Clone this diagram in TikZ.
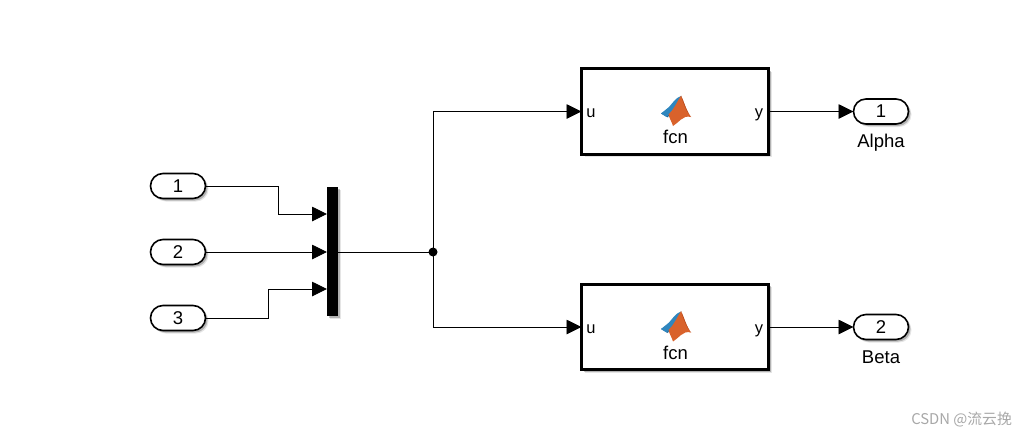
\documentclass[tikz,border=0pt]{standalone}
\usepackage{fontspec}
\usetikzlibrary{arrows.meta,shadows}
\setmainfont{Liberation Sans}
\newfontfamily\cjkwm{Noto Sans CJK SC}
\definecolor{logoblue}{HTML}{2F86BE}
\definecolor{logodark}{HTML}{1B5C8C}
\definecolor{logoorange}{HTML}{D9622B}
\definecolor{logodeep}{HTML}{B5491C}
\definecolor{wmgray}{HTML}{A8A8A8}
\tikzset{
  softshadow/.style={
    drop shadow={shadow xshift=3pt,shadow yshift=-3pt,fill=black,opacity=.10},
    drop shadow={shadow xshift=2pt,shadow yshift=-2pt,fill=black,opacity=.22}},
  portbox/.style={draw=black,fill=white,line width=1.6pt,rounded corners=12.5pt,minimum width=55pt,minimum height=25pt,inner sep=0pt,outer sep=0pt,font=\fontsize{18.5pt}{20pt}\selectfont,softshadow},
  fcnblock/.style={draw=black,fill=white,line width=3pt,minimum width=187pt,minimum height=85.5pt,inner sep=0pt,outer sep=0pt,softshadow},
  muxbar/.style={draw=none,fill=black,minimum width=11pt,minimum height=129pt,inner sep=0pt,outer sep=0pt,softshadow},
  wire/.style={line width=0.9pt,draw=black},
  arrowed/.style={wire,-{Triangle[length=15pt,width=14.5pt]}},
  plabel/.style={inner sep=0pt,anchor=base,font=\fontsize{16.5pt}{18pt}\selectfont},
  nlabel/.style={inner sep=0pt,anchor=base,font=\fontsize{18.5pt}{20pt}\selectfont},
  dotnode/.style={circle,fill=black,minimum size=9pt,inner sep=0pt,outer sep=0pt},
  pics/matlablogo/.style={code={
    \fill[logodark] (-15,2) -- (-3,-5) -- (-8,6) -- cycle;
    \fill[logoblue] (-15,2) -- (-7,-4.5) .. controls (-3,-9) and (0,-14) .. (5,-15.5) -- (4,-11) .. controls (1,-6) and (-3,-1) .. (-7,3) -- (-9.5,5.5) -- cycle;
    \fill[logoorange] (5,-15.8) .. controls (8,-10) and (10,-1) .. (15,5.5) .. controls (11,4.5) and (7.5,5.5) .. (5,8) .. controls (2,10.5) and (0,12.5) .. (-3,14.5) .. controls (-4,11) and (-6.5,7) .. (-7.5,3) .. controls (-2,-2) and (1,-10) .. (5,-15.8) -- cycle;
    \fill[logodeep] (5,-15.8) .. controls (8,-10) and (10,-1) .. (15,5.5) .. controls (11,1) and (8,-6) .. (5,-15.8) -- cycle;
  }}
}
\begin{document}
\begin{tikzpicture}[x=1pt,y=-1pt]
\useasboundingbox (0,0) rectangle (1027,437);
\fill[white] (0,0) rectangle (1027,437);

% inports
\node[portbox] (in1) at (178,186) {1};
\node[portbox] (in2) at (178,252) {2};
\node[portbox] (in3) at (178,318) {3};

% mux
\node[muxbar] (mux) at (332.5,251.5) {};
\coordinate (mux1) at (327,214);
\coordinate (mux2) at (327,252);
\coordinate (mux3) at (327,289);
\coordinate (muxout) at (338,252);
\coordinate (bend1) at (278,186);
\coordinate (bend3) at (268,318);

% blocks
\node[fcnblock] (blockA) at (675,111.5) {};
\node[fcnblock] (blockB) at (675,327) {};
\node[plabel] (uA) at (591,117) {u};
\node[plabel] (yA) at (759,117) {y};
\node[plabel] (uB) at (591,333) {u};
\node[plabel] (yB) at (759,333) {y};
\node[nlabel] (fcnA) at (675.5,143) {fcn};
\node[nlabel] (fcnB) at (675.5,359) {fcn};
\pic at (676,111.5) {matlablogo};
\pic at (676,327) {matlablogo};

% outports
\node[portbox] (outA) at (881,111.5) {1};
\node[portbox] (outB) at (881,327) {2};
\node[nlabel] (alpha) at (881,147) {Alpha};
\node[nlabel] (beta) at (881,363) {Beta};

% junction
\node[dotnode] (junc) at (433,252) {};
\coordinate (upbend) at (433,111.5);
\coordinate (downbend) at (433,327);

% wires
\draw[arrowed] (in1.east) -- (bend1) |- (mux1);
\draw[arrowed] (in2.east) -- (mux2);
\draw[arrowed] (in3.east) -- (bend3) |- (mux3);
\draw[wire] (muxout) -- (junc.center);
\draw[arrowed] (junc.center) -- (upbend) -- (blockA.west);
\draw[arrowed] (junc.center) -- (downbend) -- (blockB.west);
\draw[arrowed] (blockA.east) -- (outA.west);
\draw[arrowed] (blockB.east) -- (outB.west);

% watermark
\node[text=wmgray,inner sep=0pt,anchor=east,font=\fontsize{14.8pt}{16pt}\cjkwm] (wm) at (1012,420) {CSDN @流云挽};
\end{tikzpicture}
\end{document}
